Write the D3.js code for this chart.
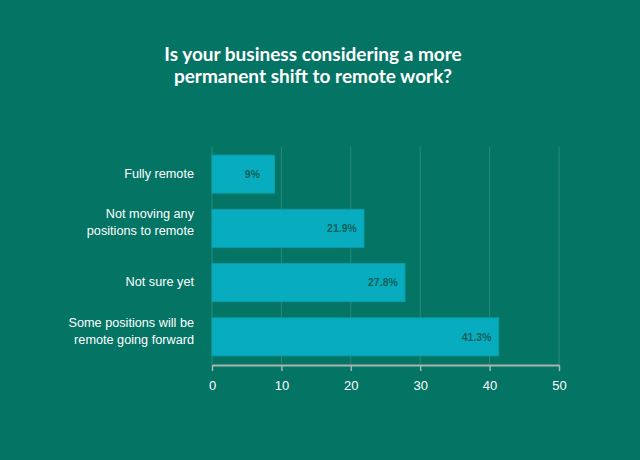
<!DOCTYPE html>
<meta charset="utf-8">
<script src="https://d3js.org/d3.v7.min.js"></script>
<style>
  body { margin: 0; background: #047464; }
  text { font-family: "Liberation Sans", Arial, sans-serif; }
</style>
<body>
<div id="chart"></div>
<script>

// data
var categories = ["Fully remote", "Not moving any positions to remote", "Not sure yet", "Some positions will be remote going forward"];
var labelLines = [["Fully remote"], ["Not moving any", "positions to remote"], ["Not sure yet"], ["Some positions will be", "remote going forward"]];
var values = [9, 21.9, 27.8, 41.3];
var valueLabels = ["9%", "21.9%", "27.8%", "41.3%"];
var xTicks = [0, 10, 20, 30, 40, 50];
var titleLines = ["Is your business considering a more", "permanent shift to remote work?"];

var W = 640, H = 460;
var margin = {top: 147, right: 81, bottom: 96, left: 212};
var width = W - margin.left - margin.right,
    height = H - margin.top - margin.bottom;

var svg = d3.select("#chart").append("svg")
    .attr("width", W).attr("height", H);

svg.append("rect").attr("width", W).attr("height", H).attr("fill", "#047464");

// title
svg.append("text")
    .attr("x", 313).attr("y", 61)
    .attr("text-anchor", "middle")
    .attr("fill", "#ffffff")
    .style("font-family", "Lato, 'Liberation Sans', sans-serif")
    .style("font-weight", "700")
    .style("font-size", "19px")
  .selectAll("tspan").data(titleLines).enter().append("tspan")
    .attr("x", 313).attr("dy", function(d, i) { return i ? 22 : 0; })
    .text(function(d) { return d; });

var g = svg.append("g").attr("transform", "translate(" + margin.left + "," + margin.top + ")");

var x = d3.scaleLinear().domain([0, 50]).range([0, width]);
var y = d3.scaleBand().domain(categories).range([0, height]).paddingInner(0.3).paddingOuter(0.15);

// gridlines
g.selectAll(".grid").data(xTicks).enter().append("line")
    .attr("x1", function(d) { return x(d); }).attr("x2", function(d) { return x(d); })
    .attr("y1", 0).attr("y2", height)
    .attr("stroke", "#2a8b7d").attr("stroke-width", 1);

// bars
g.selectAll(".bar").data(values).enter().append("rect")
    .attr("x", x(0))
    .attr("y", function(d, i) { return y(categories[i]); })
    .attr("width", function(d) { return x(d) - x(0); })
    .attr("height", y.bandwidth())
    .attr("fill", "#07adbf")
    .attr("stroke", "#0a9fae").attr("stroke-width", 1);

// value labels
g.selectAll(".val").data(values).enter().append("text")
    .attr("x", function(d) { return x(d) - 22; })
    .attr("y", function(d, i) { return y(categories[i]) + y.bandwidth() / 2; })
    .attr("dy", "0.35em")
    .attr("text-anchor", "middle")
    .attr("fill", "#13605a")
    .style("font-weight", "700")
    .style("font-size", "10.5px")
    .text(function(d, i) { return valueLabels[i]; });

// category labels
g.selectAll(".cat").data(categories).enter().append("text")
    .attr("text-anchor", "end")
    .attr("fill", "#ffffff")
    .style("font-size", "12.7px")
    .attr("transform", function(d, i) {
      var n = labelLines[i].length;
      var cy = y(d) + y.bandwidth() / 2 - (n > 1 ? 6 : 1);
      return "translate(-18," + cy + ")";
    })
  .selectAll("tspan").data(function(d, i) { return labelLines[i]; }).enter().append("tspan")
    .attr("x", 0)
    .attr("y", function(d, j, nodes) { return (j - (nodes.length - 1) / 2) * 17; })
    .attr("dy", "0.35em")
    .text(function(d) { return d; });

// x axis
var xAxis = g.append("g")
    .attr("transform", "translate(0," + (height + 1) + ")")
    .call(d3.axisBottom(x).tickValues(xTicks).tickSize(6).tickSizeOuter(0));
xAxis.select(".domain").attr("stroke", "#a9b3b0").attr("stroke-width", 2);
xAxis.selectAll(".tick line").attr("stroke", "#a9b3b0").attr("stroke-width", 1.5);
xAxis.selectAll(".tick text")
    .attr("fill", "#ffffff")
    .attr("dy", "1.2em")
    .style("font-size", "13px")
    .style("font-family", "'Liberation Sans', Arial, sans-serif");

</script>
</body>
